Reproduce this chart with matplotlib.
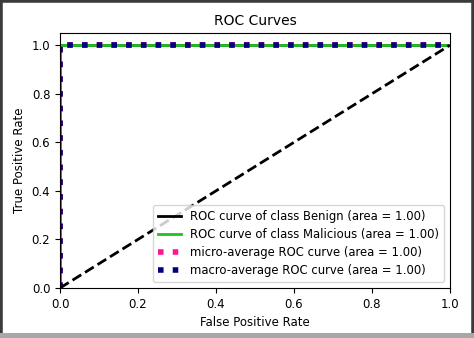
import matplotlib
matplotlib.use('Agg')
import matplotlib.pyplot as plt
from matplotlib.patches import Rectangle

# ROC points
fpr_benign = [0.0, 0.0, 1.0]
tpr_benign = [0.0, 1.0, 1.0]
fpr_malicious = [0.0, 0.0, 1.0]
tpr_malicious = [0.0, 1.0, 1.0]
fpr_micro = [0.0, 0.0, 1.0]
tpr_micro = [0.0, 1.0, 1.0]
fpr_macro = [0.0, 0.0, 1.0]
tpr_macro = [0.0, 1.0, 1.0]
auc_benign = 1.00
auc_malicious = 1.00
auc_micro = 1.00
auc_macro = 1.00

fig = plt.figure(figsize=(4.74, 3.38), dpi=100)
ax = fig.add_axes([0.1266, 0.148, 0.8224, 0.754])

ax.plot(fpr_benign, tpr_benign, color='black', lw=2,
        label='ROC curve of class Benign (area = {:.2f})'.format(auc_benign))
ax.plot(fpr_malicious, tpr_malicious, color='#22c022', lw=2,
        label='ROC curve of class Malicious (area = {:.2f})'.format(auc_malicious))
ax.plot(fpr_micro, tpr_micro, color='deeppink', linestyle=':', lw=4,
        label='micro-average ROC curve (area = {:.2f})'.format(auc_micro))
ax.plot(fpr_macro, tpr_macro, color='navy', linestyle=':', lw=4,
        label='macro-average ROC curve (area = {:.2f})'.format(auc_macro))
ax.plot([0, 1], [0, 1], 'k--', lw=2)

ax.set_xlim([0.0, 1.0])
ax.set_ylim([0.0, 1.05])
ax.set_title('ROC Curves', fontsize=10)
ax.set_xlabel('False Positive Rate', fontsize=8.5)
ax.set_ylabel('True Positive Rate', fontsize=8.5)
ax.tick_params(labelsize=8.5)
ax.legend(loc='lower right', fontsize=8.4, borderpad=0.4, labelspacing=0.45)

# image border
fig.patches.append(Rectangle((0, 0), 1, 1, transform=fig.transFigure,
                             fill=False, edgecolor='#3a3a3a', lw=4))
fig.patches.append(Rectangle((0, 0), 1, 0.015, transform=fig.transFigure,
                             facecolor='#a8a8a8', edgecolor='none'))

fig.savefig('out.png', dpi=100)
